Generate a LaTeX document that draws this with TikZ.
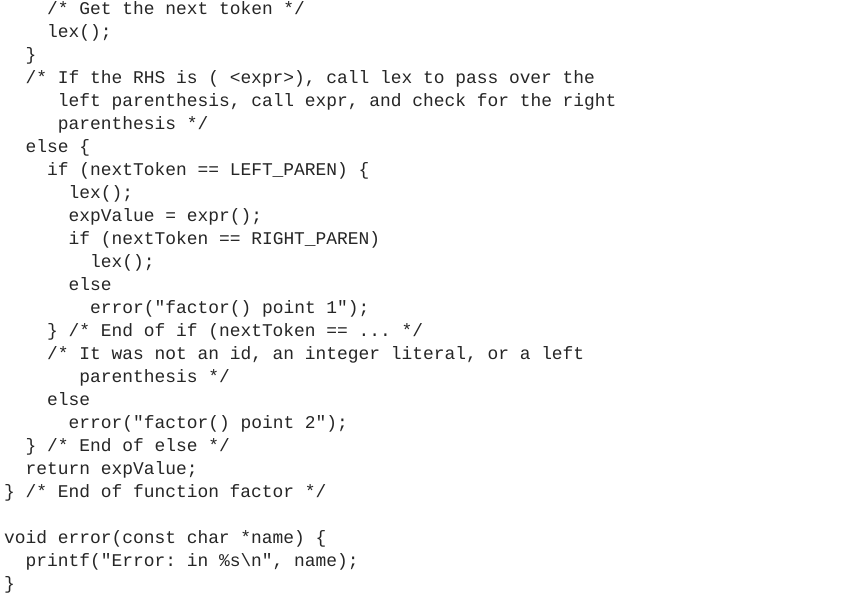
\documentclass[tikz,border=0pt]{standalone}
\usepackage{fontspec}
\setmonofont{Liberation Mono}
\tikzset{codetext/.style={anchor=base west,inner sep=0pt,font=\ttfamily\fontsize{17.9}{23}\selectfont,text=black!85}}
\newcommand{\codeline}[4]{\node[codetext] (#1) at ({4pt+#2*10.75pt},{-15pt-(#3-1)*22.96pt}) {#4};}
\begin{document}
\begin{tikzpicture}
\useasboundingbox[fill=white] (0,0) rectangle (856pt,-604pt);
\codeline{l1}{4}{1}{/* Get the next token */}
\codeline{l2}{4}{2}{lex();}
\codeline{l3}{2}{3}{\}}
\codeline{l4}{2}{4}{/* If the RHS is ( <expr>), call lex to pass over the}
\codeline{l5}{5}{5}{left parenthesis, call expr, and check for the right}
\codeline{l6}{5}{6}{parenthesis */}
\codeline{l7}{2}{7}{else \{}
\codeline{l8}{4}{8}{if (nextToken == LEFT\_PAREN) \{}
\codeline{l9}{6}{9}{lex();}
\codeline{l10}{6}{10}{expValue = expr();}
\codeline{l11}{6}{11}{if (nextToken == RIGHT\_PAREN)}
\codeline{l12}{8}{12}{lex();}
\codeline{l13}{6}{13}{else}
\codeline{l14}{8}{14}{error("factor() point 1");}
\codeline{l15}{4}{15}{\} /* End of if (nextToken == ... */}
\codeline{l16}{4}{16}{/* It was not an id, an integer literal, or a left}
\codeline{l17}{7}{17}{parenthesis */}
\codeline{l18}{4}{18}{else}
\codeline{l19}{6}{19}{error("factor() point 2");}
\codeline{l20}{2}{20}{\} /* End of else */}
\codeline{l21}{2}{21}{return expValue;}
\codeline{l22}{0}{22}{\} /* End of function factor */}
\codeline{l24}{0}{24}{void error(const char *name) \{}
\codeline{l25}{2}{25}{printf("Error: in \%s\textbackslash n", name);}
\codeline{l26}{0}{26}{\}}
\end{tikzpicture}
\end{document}
